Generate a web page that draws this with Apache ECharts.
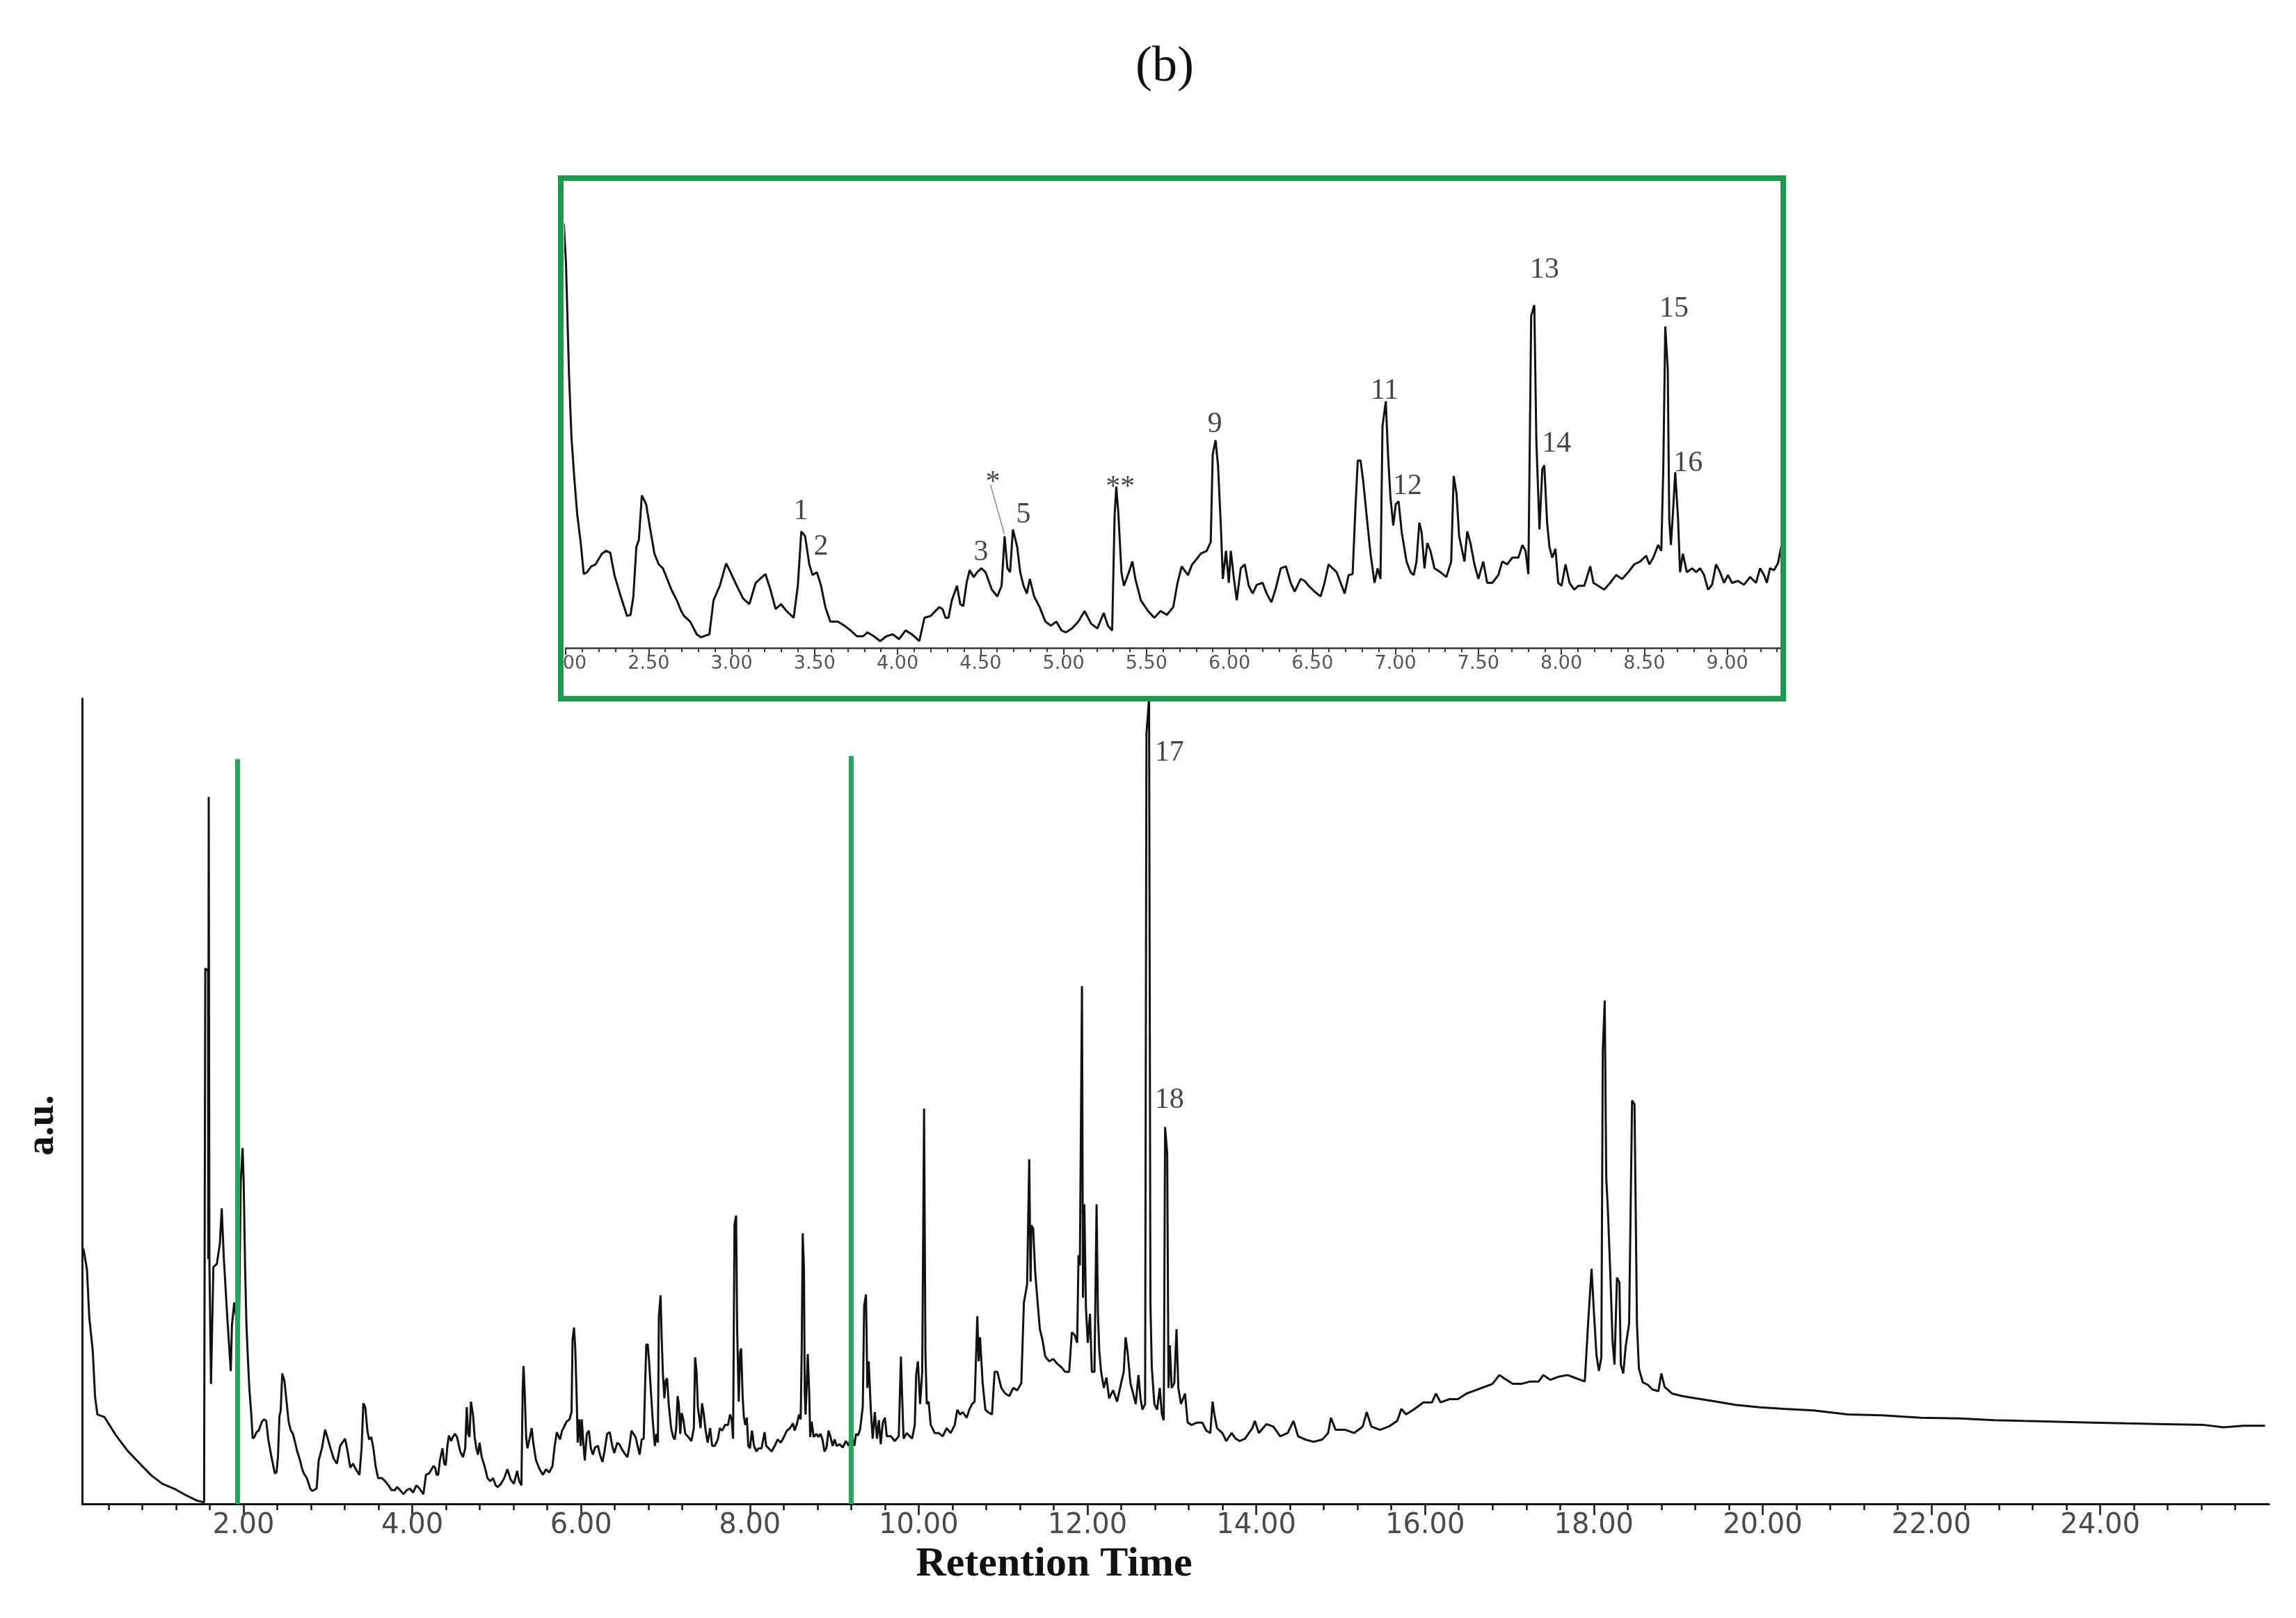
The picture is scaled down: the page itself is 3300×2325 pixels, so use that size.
<!DOCTYPE html>
<html><head><meta charset="utf-8">
<script src="https://cdn.jsdelivr.net/npm/echarts/dist/echarts.min.js"></script>
<style>html,body{margin:0;padding:0;background:#fff}#c{width:3300px;height:2325px}</style>
</head><body><div id="c"></div><script>
// Retention time (min) vs detector signal (% of main full scale)
const solventRegion = [[0.104,31.7],[0.145,29.1],[0.173,23.1],[0.214,19.0],[0.241,13.3],[0.269,11.1],[0.351,10.8],[0.489,8.5],[0.626,6.6],[0.763,5.1],[0.901,3.6],[1.038,2.5],[1.176,1.9],[1.313,1.1],[1.45,0.4],[1.533,0.2],[1.541,0.2],[1.547,66.5],[1.580,66.2],[1.582,30.4],[1.588,87.8],[1.596,30.1],[1.615,14.9],[1.643,29.4],[1.684,29.8],[1.720,32.3],[1.742,36.7],[1.766,30.7],[1.808,23.1],[1.849,16.5],[1.863,22.2],[1.890,25.0],[1.945,20.6],[1.967,39.9]];
const insetRegionA = [[1.989,44.2],[2.002,40.1],[2.020,28.8],[2.035,22.2],[2.053,17.8],[2.070,14.2],[2.091,11.3],[2.109,8.1],[2.129,8.3],[2.154,8.9],[2.180,9.1],[2.218,10.2],[2.243,10.5],[2.269,10.3],[2.294,8.0],[2.332,5.8],[2.370,3.8],[2.391,3.9],[2.408,5.8],[2.426,10.9],[2.441,11.6],[2.459,16.2],[2.485,15.3],[2.510,12.7],[2.535,10.2],[2.561,9.1],[2.586,8.7],[2.612,7.6],[2.637,6.5],[2.670,5.4],[2.696,4.3],[2.713,3.8],[2.751,3.2],[2.790,1.9],[2.815,1.6],[2.866,1.9],[2.891,5.4],[2.929,6.9],[2.967,9.2],[2.993,8.3],[3.031,6.9],[3.069,5.6],[3.107,5.0],[3.145,7.2],[3.171,7.6],[3.204,8.1],[3.234,6.5],[3.265,4.5],[3.298,5.0],[3.331,4.3],[3.374,3.6],[3.399,6.9],[3.420,12.5],[3.443,12.0],[3.468,9.1],[3.488,8.0],[3.514,8.3],[3.539,6.9],[3.565,4.7],[3.595,3.2],[3.641,3.2],[3.679,2.8],[3.717,2.3],[3.755,1.7],[3.793,1.7],[3.819,2.1],[3.857,1.7],[3.895,1.2],[3.933,1.7],[3.971,1.9],[4.009,1.4],[4.048,2.3],[4.086,1.9],[4.131,1.2],[4.162,3.6],[4.200,3.8],[4.251,4.7],[4.271,4.5],[4.289,3.6],[4.307,3.6],[4.327,5.4],[4.358,6.9],[4.378,5.0],[4.396,4.8],[4.416,7.2],[4.434,8.5],[4.459,7.8],[4.480,8.3],[4.505,8.7],[4.530,8.3],[4.568,6.5],[4.601,5.8],[4.627,6.9],[4.645,12.0],[4.662,8.7],[4.678,8.3],[4.695,12.7],[4.721,10.9],[4.739,8.3],[4.759,6.9],[4.779,6.1],[4.797,7.6],[4.823,5.8],[4.856,4.7],[4.891,3.2],[4.924,2.8],[4.957,3.2],[4.988,2.3],[5.013,2.1],[5.051,2.5],[5.089,3.2],[5.127,4.3],[5.166,3.0],[5.204,2.5],[5.242,4.1],[5.267,2.8],[5.293,2.3],[5.308,14.2],[5.318,17.1],[5.331,14.2],[5.349,8.3],[5.364,6.9],[5.394,8.3],[5.415,9.4],[5.433,7.6],[5.466,5.4],[5.509,4.3],[5.547,3.6],[5.585,4.3],[5.623,3.9],[5.661,4.7],[5.687,7.2],[5.712,8.9],[5.750,8.0],[5.775,9.1]];
const insetRegionB = [[5.791,9.4],[5.827,10.2],[5.863,10.5],[5.887,11.4],[5.899,20.4],[5.916,21.9],[5.931,19.3],[5.948,13.1],[5.960,7.6],[5.979,10.5],[5.996,7.2],[6.008,10.5],[6.027,7.6],[6.044,5.4],[6.068,8.7],[6.092,9.1],[6.116,6.9],[6.140,6.1],[6.164,7.0],[6.200,7.2],[6.224,6.1],[6.253,5.2],[6.277,6.5],[6.309,8.7],[6.340,8.9],[6.369,7.2],[6.393,6.3],[6.429,7.6],[6.453,7.4],[6.477,6.9],[6.513,6.3],[6.549,5.8],[6.573,7.2],[6.597,9.1],[6.621,8.7],[6.646,8.3],[6.670,7.2],[6.694,6.1],[6.718,8.0],[6.742,8.1],[6.759,14.9],[6.773,19.8],[6.790,19.8],[6.807,17.5],[6.826,14.2],[6.850,10.2],[6.874,7.2],[6.893,8.7],[6.910,7.6],[6.922,23.3],[6.942,25.9],[6.956,20.2],[6.970,16.0],[6.987,13.1],[7.002,15.3],[7.019,15.6],[7.038,12.4],[7.067,9.4],[7.091,8.3],[7.110,8.0],[7.127,9.4],[7.144,13.4],[7.158,12.4],[7.175,8.7],[7.192,11.3],[7.211,10.5],[7.235,8.7],[7.271,8.3],[7.307,7.8],[7.336,9.4],[7.351,18.2],[7.368,16.4],[7.384,12.0],[7.416,9.4],[7.433,12.5],[7.452,11.3],[7.476,9.1],[7.500,7.6],[7.529,9.4],[7.553,7.2],[7.584,7.2],[7.620,8.0],[7.644,9.4],[7.673,9.1],[7.705,9.8],[7.741,9.8],[7.765,11.1],[7.784,10.5],[7.801,8.1],[7.818,34.7],[7.837,35.8],[7.849,21.9],[7.868,12.7],[7.885,18.9],[7.897,19.3],[7.914,13.4],[7.928,10.9],[7.945,9.8],[7.964,10.7],[7.981,7.2],[8.001,6.9],[8.025,9.1],[8.049,7.2],[8.078,6.5],[8.102,6.9],[8.138,6.9],[8.174,8.9],[8.193,7.2],[8.222,6.9],[8.258,6.5],[8.294,7.2],[8.330,8.0],[8.366,7.6],[8.403,8.3],[8.439,9.1],[8.475,9.4],[8.511,10.0],[8.530,9.1],[8.554,9.8],[8.583,11.1],[8.602,10.5],[8.614,18.9],[8.626,33.6],[8.641,29.2],[8.650,13.8],[8.660,11.1],[8.674,14.9],[8.686,18.6],[8.703,13.8],[8.715,8.3],[8.732,10.2],[8.756,8.3],[8.788,8.7],[8.812,8.3],[8.836,8.7],[8.860,8.0],[8.884,6.5],[8.908,7.0],[8.932,9.1],[8.956,8.3],[8.980,7.2],[9.004,8.0],[9.028,7.2],[9.064,7.4],[9.100,7.0],[9.137,7.8],[9.173,7.2],[9.197,8.7],[9.221,8.0],[9.238,7.2],[9.257,8.7],[9.281,8.5],[9.305,9.2]];
const midRegion = [[9.338,12.1],[9.354,24.6],[9.376,26.0],[9.392,14.4],[9.408,17.7],[9.433,11.7],[9.455,8.1],[9.48,11.4],[9.506,8.1],[9.528,10.4],[9.55,7.4],[9.575,10.1],[9.6,10.7],[9.622,8.4],[9.67,8.4],[9.717,7.8],[9.764,8.4],[9.79,18.3],[9.805,13.1],[9.821,8.1],[9.859,8.8],[9.922,8.1],[9.954,9.8],[9.97,16.0],[9.991,17.7],[10.017,12.4],[10.042,16.4],[10.064,49.1],[10.08,18.7],[10.096,12.4],[10.118,12.7],[10.143,9.8],[10.19,8.8],[10.237,8.8],[10.285,8.4],[10.332,9.4],[10.38,8.8],[10.427,9.8],[10.458,11.7],[10.49,11.1],[10.521,11.4],[10.569,10.7],[10.6,11.7],[10.632,12.4],[10.663,12.7],[10.695,23.3],[10.711,17.7],[10.727,20.7],[10.758,15.0],[10.79,11.7],[10.821,11.4],[10.869,11.1],[10.9,16.4],[10.932,16.4],[10.979,14.4],[11.026,13.7],[11.074,13.4],[11.121,14.4],[11.168,14.1],[11.216,15.0],[11.247,25.0],[11.285,27.3],[11.31,42.8],[11.326,27.6],[11.335,34.6],[11.357,34.2],[11.38,28.9],[11.405,25.6],[11.436,21.7],[11.468,20.3],[11.5,18.3],[11.547,17.7],[11.594,18.0],[11.642,17.4],[11.689,17.0],[11.736,16.4],[11.783,16.4],[11.815,21.3],[11.847,21.0],[11.878,20.0],[11.894,30.9],[11.91,29.6],[11.935,64.3],[11.947,25.6],[11.963,37.2],[11.982,24.3],[12.004,20.0],[12.03,23.6],[12.052,16.4],[12.083,16.4],[12.108,37.2],[12.124,23.6],[12.14,19.0],[12.162,16.4],[12.194,14.4],[12.225,15.7],[12.257,13.1],[12.304,14.1],[12.351,12.7],[12.399,15.0],[12.43,16.4],[12.452,20.7],[12.477,18.7],[12.509,15.0],[12.541,13.7],[12.572,12.4],[12.604,16.0],[12.629,13.1],[12.651,11.7],[12.683,12.4],[12.699,95.7],[12.73,100],[12.746,25.0],[12.762,17.0],[12.793,12.4],[12.825,11.7],[12.857,14.4],[12.882,11.1],[12.904,10.4],[12.92,46.8],[12.945,43.5],[12.96,14.4],[12.976,19.7],[12.998,14.4],[13.029,15.0],[13.055,21.7],[13.077,14.4],[13.108,12.4],[13.156,13.7],[13.187,10.1],[13.235,9.8],[13.298,10.1],[13.361,10.1],[13.408,9.1],[13.456,8.8],[13.482,12.7],[13.504,11.1],[13.535,9.4],[13.598,8.8],[13.645,7.8],[13.708,8.8],[13.756,8.1],[13.803,7.8],[13.866,8.1],[13.913,8.8],[13.954,9.4]];
const plateauRegion = [[13.983,10.3],[14.031,8.8],[14.12,9.9],[14.202,9.6],[14.284,8.4],[14.373,8.8],[14.441,10.3],[14.496,8.4],[14.578,8.0],[14.68,7.7],[14.783,8.0],[14.851,8.8],[14.885,10.7],[14.94,9.2],[15.056,9.2],[15.159,8.8],[15.261,9.6],[15.309,11.4],[15.364,9.6],[15.466,9.2],[15.569,9.6],[15.671,10.3],[15.719,11.8],[15.774,11.1],[15.877,11.8],[15.979,12.6],[16.082,12.6],[16.129,13.7],[16.184,12.6],[16.287,13.0],[16.389,13.0],[16.492,13.7],[16.594,14.1],[16.697,14.5],[16.799,14.9],[16.881,16.0],[16.936,15.6],[17.039,14.9],[17.141,14.9],[17.244,15.2],[17.346,15.2],[17.401,16.0],[17.483,15.4],[17.585,15.8],[17.688,16.0],[17.79,15.6],[17.893,15.2]];
const lateRegion = [[17.932,22.4],[17.973,29.2],[18.002,23.6],[18.031,18.5],[18.06,16.5],[18.089,18.2],[18.106,56.3],[18.129,62.5],[18.147,40.5],[18.164,37.1],[18.193,29.2],[18.222,20.2],[18.245,17.3],[18.274,28.1],[18.303,27.5],[18.32,17.3],[18.349,16.2],[18.378,19.6],[18.418,22.4],[18.453,50.1],[18.482,49.6],[18.511,22.4],[18.534,16.8],[18.58,15.1],[18.638,14.8],[18.696,14.2],[18.765,14.0],[18.8,16.2],[18.84,14.5],[18.927,13.7],[19.043,13.4],[19.217,13.1],[19.448,12.7],[19.679,12.3],[19.968,12.0],[20.258,11.8],[20.605,11.6],[21.01,11.1],[21.414,11.0],[21.877,10.7],[22.34,10.6],[22.745,10.4],[23.092,10.3],[23.497,10.2],[23.901,10.1],[24.306,10.0],[24.769,9.9],[25.232,9.8],[25.463,9.5],[25.694,9.7],[25.954,9.7]];

const mainTicks = [2,4,6,8,10,12,14,16,18,20,22,24];
const insetTicks = [2,2.5,3,3.5,4,4.5,5,5.5,6,6.5,7,7.5,8,8.5,9];
const boundaryTimes = [1.93, 9.2];
const boundaryHeights = [92.5, 92.9];
const insetPeakNames = ['1','2','3','*','5','**','9','11','12','13','14','15','16'];
const insetPeakNameAt = [[3.417,14.55],[3.539,10.89],[4.503,10.32],[4.574,17.49],[4.759,14.19],[5.342,16.98],[5.912,23.51],[6.935,26.95],[7.073,17.13],[7.899,39.42],[7.971,21.5],[8.679,35.4],[8.763,19.49]];
const starLeader = [[4.56,17.3],[4.644,12.2]];
const mainPeakNames = ['17','18'];
const mainPeakNameAt = [[12.97,93.3],[12.97,50.1]];

const chromatogram = [].concat(solventRegion, insetRegionA, insetRegionB, midRegion, plateauRegion, lateRegion);
const mainMinor = [];
for (let k = 1; k <= 64; k++) { const v = Math.round(k * 40) / 100; if (k % 5 !== 0) mainMinor.push(v); }
const insetMinor = [];
for (let k = 21; k <= 93; k++) { if (k % 5 !== 0) insetMinor.push(k / 10); }

const chart = echarts.init(document.getElementById('c'), null, {renderer: 'canvas', width: 3300, height: 2325});
const ink = '#111';
const serif = '"Liberation Serif", "Times New Roman", serif';
const labelStyle = {show: true, position: 'inside', formatter: p => p.data[2], fontFamily: serif, fontSize: 42, color: '#151515'};
chart.setOption({
  animation: false,
  backgroundColor: '#fff',
  grid: [
    {left: 118.3, right: 38.8, top: 1004, bottom: 164},
    {left: 813, right: 741, top: 291, bottom: 1394}
  ],
  xAxis: [
    {gridIndex: 0, type: 'value', min: 0.09, max: 26,
     axisLine: {lineStyle: {color: ink, width: 3}},
     axisTick: {customValues: mainTicks, length: 16, lineStyle: {color: ink, width: 2.5}},
     axisLabel: {customValues: mainTicks, formatter: v => v.toFixed(2), fontFamily: 'DejaVu Sans', fontSize: 40, color: '#4a4a4a', margin: 12},
     splitLine: {show: false}},
    {gridIndex: 0, type: 'value', min: 0.09, max: 26, position: 'bottom',
     axisLine: {show: false},
     axisTick: {customValues: mainMinor, length: 9, lineStyle: {color: ink, width: 2.5}},
     axisLabel: {show: false}, splitLine: {show: false}},
    {gridIndex: 1, type: 'value', min: 2, max: 9.32,
     axisLine: {lineStyle: {color: '#333', width: 2.5}},
     axisTick: {customValues: insetTicks, length: 10, lineStyle: {color: '#333', width: 2}},
     axisLabel: {customValues: insetTicks, formatter: v => v.toFixed(2), fontFamily: 'DejaVu Sans', fontSize: 27, color: '#555', margin: 9},
     splitLine: {show: false}},
    {gridIndex: 1, type: 'value', min: 2, max: 9.32, position: 'bottom',
     axisLine: {show: false},
     axisTick: {customValues: insetMinor, length: 6, lineStyle: {color: '#333', width: 2}},
     axisLabel: {show: false}, splitLine: {show: false}}
  ],
  yAxis: [
    {gridIndex: 0, type: 'value', min: 0, max: 100,
     axisLine: {show: true, lineStyle: {color: ink, width: 3}},
     axisTick: {show: false}, axisLabel: {show: false}, splitLine: {show: false}},
    {gridIndex: 1, type: 'value', min: 0.5, max: 46.37, show: false, splitLine: {show: false}}
  ],
  series: [
    {type: 'line', xAxisIndex: 0, yAxisIndex: 0, data: chromatogram, symbol: 'none', lineStyle: {color: ink, width: 3}, z: 2},
    {type: 'line', xAxisIndex: 2, yAxisIndex: 1, data: chromatogram, symbol: 'none', lineStyle: {color: ink, width: 3}, z: 2},
    ...boundaryTimes.map((t, i) => ({type: 'line', xAxisIndex: 0, yAxisIndex: 0, data: [[t, 0], [t, boundaryHeights[i]]], symbol: 'none', lineStyle: {color: '#2fa35c', width: 7}, z: 5})),
    {type: 'line', xAxisIndex: 2, yAxisIndex: 1, data: starLeader, symbol: 'none', lineStyle: {color: '#888', width: 1.5}, z: 3},
    {type: 'scatter', xAxisIndex: 2, yAxisIndex: 1, symbolSize: 1, itemStyle: {color: 'rgba(0,0,0,0)'},
     data: insetPeakNameAt.map((p, i) => [p[0], p[1], insetPeakNames[i]]), label: labelStyle, z: 6},
    {type: 'scatter', xAxisIndex: 0, yAxisIndex: 0, symbolSize: 1, itemStyle: {color: 'rgba(0,0,0,0)'},
     data: mainPeakNameAt.map((p, i) => [p[0], p[1], mainPeakNames[i]]), label: labelStyle, z: 6}
  ],
  graphic: [
    {type: 'rect', z: 100, shape: {x: 764, y: 934, width: 42, height: 48}, style: {fill: '#fff'}},
    {type: 'rect', z: 101, shape: {x: 806, y: 256, width: 1757, height: 748}, style: {fill: 'none', stroke: '#1c9b4f', lineWidth: 8}},
    {type: 'text', z: 100, x: 1674, y: 97, style: {text: '(b)', fontFamily: serif, fontSize: 72, fill: '#111', align: 'center', verticalAlign: 'middle'}},
    {type: 'text', z: 100, x: 62, y: 1617, rotation: Math.PI / 2, style: {text: 'a.u.', fontFamily: serif, fontWeight: 'bold', fontSize: 56, fill: '#111', align: 'center', verticalAlign: 'middle'}},
    {type: 'text', z: 100, x: 1515, y: 2248, style: {text: 'Retention Time', fontFamily: serif, fontWeight: 'bold', fontSize: 60, fill: '#111', align: 'center', verticalAlign: 'middle'}}
  ]
});
</script></body></html>
